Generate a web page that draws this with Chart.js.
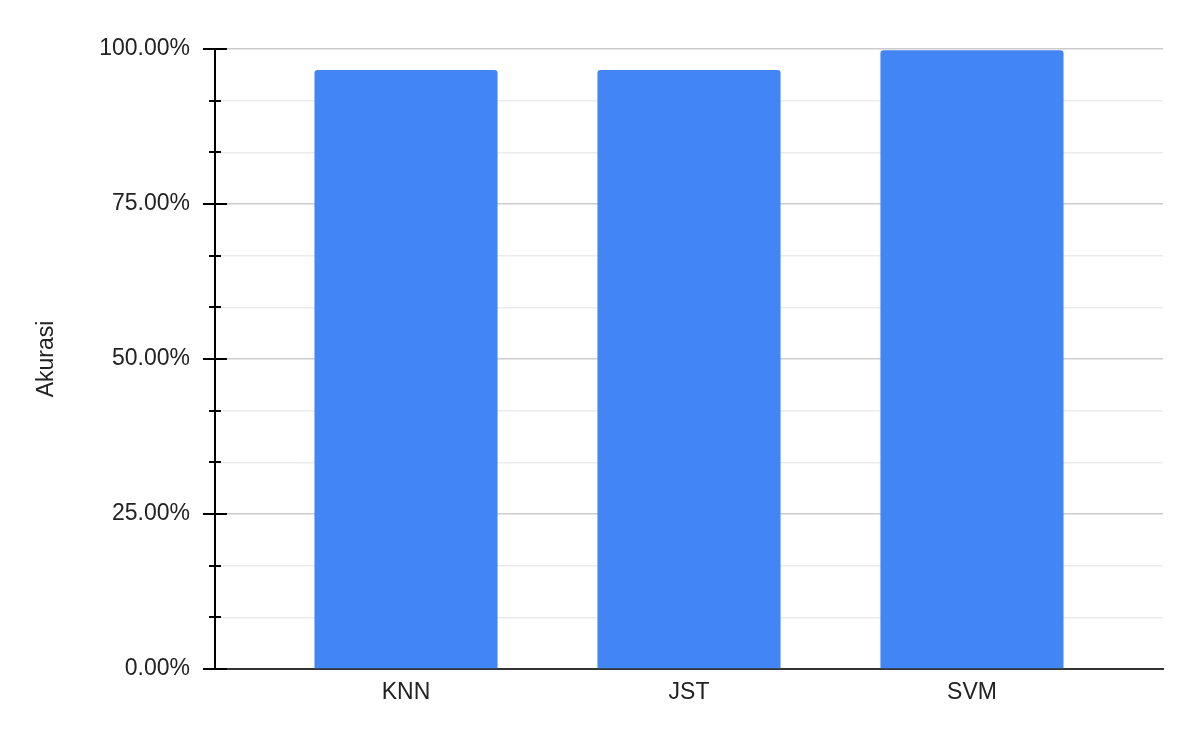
<!DOCTYPE html>
<html>
<head>
<meta charset="utf-8">
<script src="https://cdn.jsdelivr.net/npm/chart.js@4"></script>
<style>
  html, body { margin: 0; padding: 0; background: #fff; }
  #wrap { width: 1200px; height: 742px; }
</style>
</head>
<body>
<div id="wrap"><canvas id="akurasiChart"></canvas></div>
<script>
// data
var categories = ['KNN', 'JST', 'SVM'];
var accuracy = [96.6, 96.6, 99.8];
var yTickLabels = ['0.00%', '25.00%', '50.00%', '75.00%', '100.00%'];
var yTitle = 'Akurasi';

var font = 'Arial, "Liberation Sans", sans-serif';

// little tick marks crossing the y axis line (long for major, short for minor)
var axisTicks = {
    id: 'axisTicks',
    afterDraw: function (chart) {
        var ctx = chart.ctx;
        var y = chart.scales.y;
        var x0 = chart.chartArea.left;
        ctx.save();
        ctx.strokeStyle = '#000';
        ctx.lineWidth = 2;
        y.ticks.forEach(function (t, i) {
            var py = Math.round(y.getPixelForValue(t.value));
            var half = (i % 3 === 0) ? 12 : 6;
            ctx.beginPath();
            ctx.moveTo(x0 - half, py);
            ctx.lineTo(x0 + half, py);
            ctx.stroke();
        });
        ctx.restore();
    }
};

var ctx = document.getElementById('akurasiChart').getContext('2d');
var myChart = new Chart(ctx, {
    type: 'bar',
    data: {
        datasets: [{
            label: yTitle,
            data: accuracy.map(function (v, i) { return { x: i, y: v }; }),
            backgroundColor: '#4285f4',
            borderWidth: 0,
            borderRadius: { topLeft: 3, topRight: 3, bottomLeft: 0, bottomRight: 0 },
            borderSkipped: false,
            barPercentage: 0.647,
            categoryPercentage: 1
        }]
    },
    options: {
        responsive: true,
        maintainAspectRatio: false,
        animation: false,
        layout: { padding: { left: 0, right: 37, top: 49, bottom: 0 } },
        plugins: {
            legend: { display: false },
            tooltip: { enabled: false }
        },
        scales: {
            x: {
                type: 'linear',
                min: -0.675,
                max: 2.675,
                offset: false,
                afterBuildTicks: function (scale) {
                    scale.ticks = categories.map(function (c, i) { return { value: i }; });
                },
                afterFit: function (scale) { scale.height = 73; },
                grid: { display: false, drawTicks: false },
                border: { display: true, color: '#333333', width: 2 },
                ticks: {
                    autoSkip: false,
                    maxRotation: 0,
                    padding: 10,
                    color: '#222222',
                    font: { family: font, size: 23 },
                    callback: function (v) { return categories[v]; }
                }
            },
            y: {
                min: 0,
                max: 100,
                afterBuildTicks: function (scale) {
                    var t = [];
                    for (var i = 0; i <= 12; i++) t.push({ value: i * 25 / 3 });
                    scale.ticks = t;
                },
                afterFit: function (scale) { scale.width = 215; },
                grid: {
                    drawTicks: false,
                    color: function (c) { return c.index % 3 === 0 ? '#cccccc' : '#ebebeb'; },
                    lineWidth: 1.5
                },
                border: { display: true, color: '#000000', width: 2 },
                ticks: {
                    autoSkip: false,
                    padding: 25,
                    color: '#222222',
                    font: { family: font, size: 23 },
                    callback: function (v, i) { return i % 3 === 0 ? yTickLabels[i / 3] : ''; }
                },
                title: {
                    display: true,
                    text: yTitle,
                    color: '#222222',
                    font: { family: font, size: 23 },
                    padding: { top: 33, bottom: 0 }
                }
            }
        }
    },
    plugins: [axisTicks]
});
</script>
</body>
</html>
